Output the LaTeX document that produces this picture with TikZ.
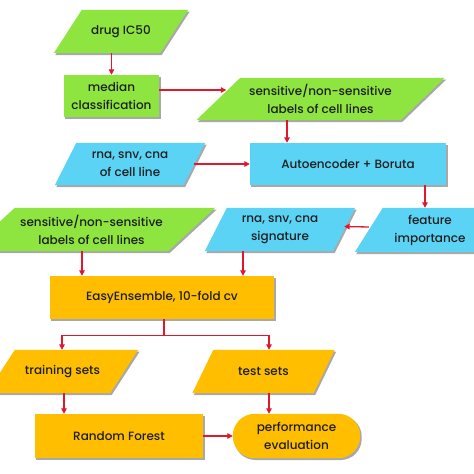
\documentclass[tikz,border=0pt]{standalone}
\usepackage{fontspec}
\setmainfont{Poppins Medium}
\usetikzlibrary{calc,backgrounds,arrows.meta}
\definecolor{gr}{HTML}{8EE53F}
\definecolor{bl}{HTML}{5AD3F5}
\definecolor{og}{HTML}{FFBF00}
\definecolor{rd}{HTML}{E0182D}
\definecolor{tx}{HTML}{1E1E1E}
\definecolor{sh}{HTML}{A8A8A8}
\newcommand\parashape[3]{%
  \fill[sh] ($(#1.north west)+(#2/2+1.5,1.8)$) -- ($(#1.north east)+(#2/2+1.5,1.8)$) -- ($(#1.south east)+(-#2/2+1.5,1.8)$) -- ($(#1.south west)+(-#2/2+1.5,1.8)$) -- cycle;
  \fill[#3] ($(#1.north west)+(#2/2,0)$) -- ($(#1.north east)+(#2/2,0)$) -- ($(#1.south east)+(-#2/2,0)$) -- ($(#1.south west)+(-#2/2,0)$) -- cycle;}
\newcommand\rectshape[2]{%
  \fill[sh] ($(#1.north west)+(1.5,1.8)$) rectangle ($(#1.south east)+(1.5,1.8)$);
  \fill[#2] (#1.north west) rectangle (#1.south east);}
\tikzset{
  lbl/.style={inner sep=0pt, align=center, text=tx, font=\fontsize{12}{18}\selectfont},
  arr/.style={draw=rd, line width=1.3pt, -{Triangle[length=5.5pt,width=5.5pt]}},
  ln/.style={draw=rd, line width=1.3pt}
}
\begin{document}
\begin{tikzpicture}[x=1pt,y=-1pt]
\useasboundingbox (0,0) rectangle (474,474);
\clip (0,0) rectangle (474,474);
\node[lbl, minimum width=106, minimum height=43] (ic50) at (121,31.5) {drug IC50};
\node[lbl, minimum width=95, minimum height=42] (median) at (111.5,96) {median\\classification};
\node[lbl, minimum width=204, minimum height=42] (sens1) at (320.5,99) {sensitive/non-sensitive\\labels of cell lines};
\node[lbl, minimum width=128.5, minimum height=42] (rna1) at (130,164) {rna, snv, cna\\of cell line};
\node[lbl, minimum width=196, minimum height=42] (auto) at (348,164) {Autoencoder + Boruta};
\node[lbl, minimum width=122, minimum height=44] (feat) at (430,230) {feature\\importance};
\node[lbl, minimum width=128, minimum height=43] (sig) at (280,229.5) {rna, snv, cna\\signature};
\node[lbl, minimum width=200, minimum height=43] (sens2) at (91.5,229.5) {sensitive/non-sensitive\\labels of cell lines};
\node[lbl, minimum width=224, minimum height=43] (easy) at (162,297.5) {EasyEnsemble, 10-fold cv};
\node[lbl, minimum width=123, minimum height=43] (train) at (62.5,371.5) {training sets};
\node[lbl, minimum width=121, minimum height=43] (test) at (263.5,371.5) {test sets};
\node[lbl, minimum width=168, minimum height=44] (rf) at (119,436) {Random Forest};
\node[lbl, minimum width=127, minimum height=44] (perf) at (296.5,436) {performance\\evaluation};
\begin{pgfonlayer}{background}
\fill[white] (0,0) rectangle (474,474);
\parashape{ic50}{28}{gr}
\rectshape{median}{gr}
\parashape{sens1}{44}{gr}
\parashape{rna1}{21.5}{bl}
\rectshape{auto}{bl}
\parashape{feat}{28}{bl}
\parashape{sig}{22}{bl}
\parashape{sens2}{47}{gr}
\rectshape{easy}{og}
\parashape{train}{28}{og}
\parashape{test}{21}{og}
\rectshape{rf}{og}
\fill[sh, rounded corners=21pt] ($(perf.north west)+(1.5,1.8)$) rectangle ($(perf.south east)+(1.5,1.8)$);
\fill[og, rounded corners=22pt] (perf.north west) rectangle (perf.south east);
\end{pgfonlayer}
\draw[arr] (ic50.south -| median) -- (median.north);
\coordinate (m1) at ([xshift=8pt,yshift=9pt]sens1.west);
\draw[arr] (median.east |- m1) -- (m1);
\draw[arr] ([xshift=-33.5pt]sens1.south) -- ([xshift=-33.5pt]sens1.south |- auto.north);
\draw[arr] (rna1.east) -- (auto.west);
\draw[arr] ([xshift=77pt]auto.south) -- ([xshift=77pt]auto.south |- feat.north);
\draw[arr] ([yshift=3pt]feat.west) -- ([yshift=3pt]sig.east);
\draw[arr] ([xshift=-9.5pt]sens2.south) -- ([xshift=-9.5pt]sens2.south |- easy.north);
\draw[arr] ([xshift=-37pt]sig.south) -- ([xshift=-37pt]sig.south |- easy.north);
\coordinate (split) at ([xshift=2pt,yshift=-16pt]easy.south);
\draw[ln] ([xshift=2pt]easy.south) -- (split);
\draw[arr] (split) -| ([xshift=-0.5pt]train.north);
\draw[arr] (split) -| ([xshift=5.5pt]test.north);
\draw[arr] ([xshift=1.5pt]train.south) -- ([xshift=1.5pt]train.south |- rf.north);
\draw[arr] ([xshift=5.5pt]test.south) -- ([xshift=5.5pt]test.south |- perf.north);
\draw[arr] (rf.east) -- (perf.west);
\end{tikzpicture}
\end{document}
